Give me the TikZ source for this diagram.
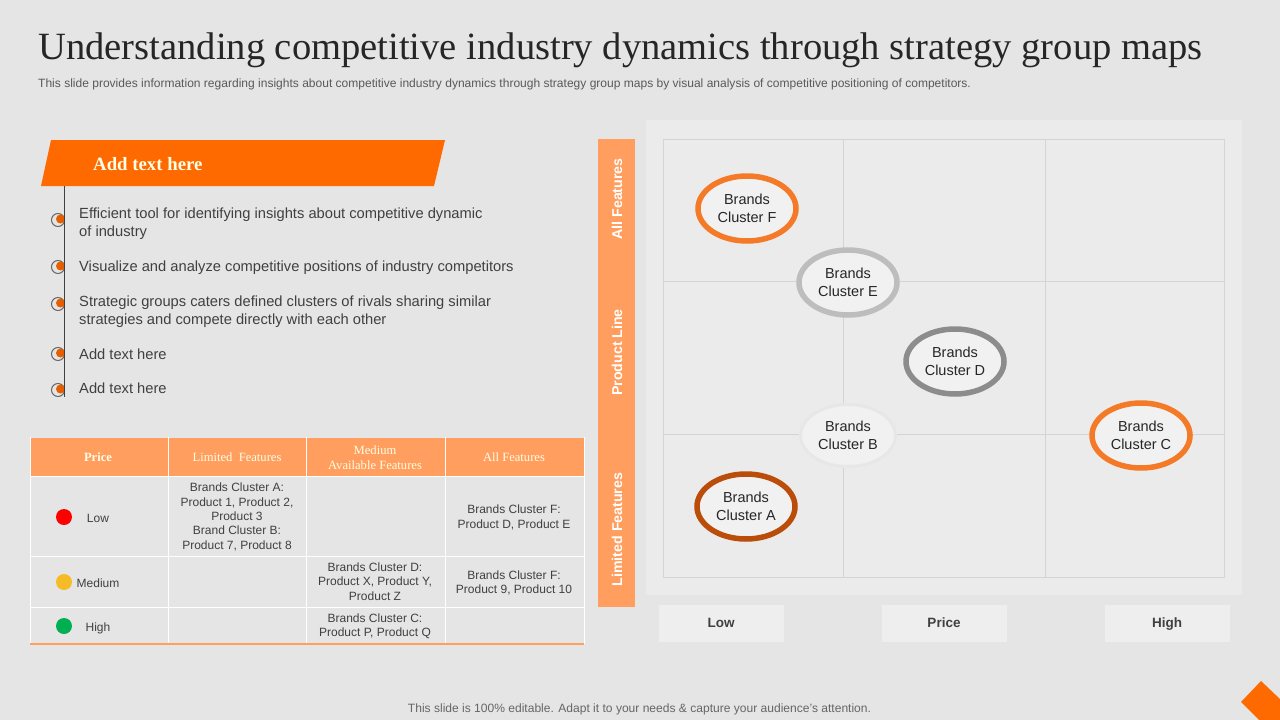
\documentclass[tikz,border=0pt]{standalone}
\usepackage{fontspec}
\setmainfont{Liberation Sans}
\newfontfamily\serifface{Liberation Serif}
\usetikzlibrary{positioning,shapes.geometric}
\definecolor{slidebg}{HTML}{E5E5E5}
\definecolor{panelbg}{HTML}{EBEBEB}
\definecolor{axisbg}{HTML}{EEEEEE}
\definecolor{clusterbg}{HTML}{F1F1F1}
\definecolor{gridline}{HTML}{D4D4D4}
\definecolor{headorange}{HTML}{FF6A00}
\definecolor{softorange}{HTML}{FF9E5E}
\definecolor{ringorange}{HTML}{F47A28}
\definecolor{ringdark}{HTML}{BB4D0A}
\definecolor{ringlight}{HTML}{BDBDBD}
\definecolor{ringgrey}{HTML}{8C8C8C}
\definecolor{ringpale}{HTML}{E7E7E7}
\definecolor{bodytext}{HTML}{404040}
\definecolor{lowred}{HTML}{FF0000}
\definecolor{midyellow}{HTML}{F6BB26}
\definecolor{highgreen}{HTML}{00AF50}
\tikzset{
	bullettext/.style={anchor=west,inner sep=0pt,align=left,text=bodytext,font=\fontsize{14.7}{18}\selectfont},
	cellhead/.style={text=white!90!yellow,align=center,font=\serifface\fontsize{12.6}{15.5}\selectfont},
	celltext/.style={text=bodytext,align=center,font=\fontsize{12}{14.3}\selectfont},
	cluster/.style={ellipse,draw=#1,line width=5.5pt,fill=clusterbg,minimum width=98pt,minimum height=65pt,inner sep=0pt,align=center,text=black!85,font=\fontsize{14.5}{18}\selectfont},
	sidelabel/.style={rotate=90,text=white,font=\bfseries\fontsize{14.2}{15}\selectfont},
	axisbox/.style={fill=axisbg,minimum width=125pt,minimum height=37pt,inner sep=0pt,text height=10pt,text depth=3pt,text=bodytext,font=\bfseries\fontsize{13.5}{15}\selectfont},
	dot/.style={circle,fill=#1,minimum size=16pt,inner sep=0pt},
	tick/.style={circle,fill=headorange!90!black,minimum size=9pt,inner sep=0pt},
	ring/.style={circle,draw=bodytext!80,line width=1pt,minimum size=13pt,inner sep=0pt},
	tableline/.style={white,line width=1pt}
}
\begin{document}
\begin{tikzpicture}[x=1pt,y=-1pt]
	\useasboundingbox (0,0) rectangle (1280,720);
	\fill[slidebg] (0,0) rectangle (1280,720);
	% title
	\node[anchor=west,inner sep=0pt,text=black!85,font=\serifface\fontsize{38.57}{44}\selectfont] (title) at (38,50) {Understanding competitive industry dynamics through strategy group maps};
	\node[anchor=west,inner sep=0pt,text=black!65,font=\fontsize{12.03}{14}\selectfont] (subtitle) at (38,84) {This slide provides information regarding insights about competitive industry dynamics through strategy group maps by visual analysis of competitive positioning of competitors.};
	% left list
	\fill[headorange] (51,140)--(445,140)--(434,186)--(41,186)--cycle;
	\node[anchor=west,inner sep=0pt,text=white!90!yellow,font=\serifface\bfseries\fontsize{18.8}{22}\selectfont] (addhead) at (93,164) {Add text here};
	\coordinate (spinetop) at (64.5,186);
	\coordinate (spineend) at (64.5,397);
	\foreach \name/\yy in {a/219,b/266,c/303,d/353,e/389}{
		\node[ring] (ring\name) at (58,\yy+1) {};
		\node[tick] (tick\name) at (60.5,\yy) {};
	}
	\draw[bodytext,line width=1.1pt] (spinetop)--(spineend);
	\node[bullettext] (texta) at (79,224) {Efficient tool for identifying insights about competitive dynamic\\of industry};
	\node[bullettext] (textb) at (79,268) {Visualize and analyze competitive positions of industry competitors};
	\node[bullettext] (textc) at (79,312) {Strategic groups caters defined clusters of rivals sharing similar\\strategies and compete directly with each other};
	\node[bullettext] (textd) at (79,354) {Add text here};
	\node[bullettext] (texte) at (79,388) {Add text here};
	% table
	\fill[softorange] (30,438) rectangle (584,476);
	\foreach \xx in {168,306.5,445}{
		\draw[tableline] (\xx,437)--(\xx,644);
	}
	\foreach \yy in {476,556.5,607.5}{
		\draw[tableline] (30,\yy)--(584,\yy);
	}
	\draw[tableline] (30,437)--(30,644);
	\draw[tableline] (584,437)--(584,644);
	\draw[softorange,line width=2pt] (30,644)--(584,644);
	\node[cellhead,font=\serifface\bfseries\fontsize{12.6}{15.5}\selectfont] (hprice) at (98,457.5) {Price};
	\node[cellhead] (hlimited) at (237,457.5) {Limited\ \ Features};
	\node[cellhead] (hmedium) at (375,457.5) {Medium\\Available Features};
	\node[cellhead] (hall) at (514,457.5) {All Features};
	\node[dot=lowred] (dotlow) at (64,517) {};
	\node[dot=midyellow] (dotmedium) at (64,582) {};
	\node[dot=highgreen] (dothigh) at (64,626) {};
	\node[celltext] (low) at (98,518) {Low};
	\node[celltext] (medium) at (98,583) {Medium};
	\node[celltext] (high) at (98,628) {High};
	\node[celltext] (cella) at (237,517) {Brands Cluster A:\\Product 1, Product 2,\\Product 3\\Brand Cluster B:\\Product 7, Product 8};
	\node[celltext] (cellf) at (514,517.5) {Brands Cluster F:\\Product D, Product E};
	\node[celltext] (celld) at (375,581.5) {Brands Cluster D:\\Product X, Product Y,\\Product Z};
	\node[celltext] (cellg) at (514,583) {Brands Cluster F:\\Product 9, Product 10};
	\node[celltext] (cellc) at (375,626) {Brands Cluster C:\\Product P, Product Q};
	% map
	\fill[softorange] (598,139) rectangle (635,607);
	\node[sidelabel] (allf) at (617,199) {All Features};
	\node[sidelabel] (prod) at (617,352.5) {Product Line};
	\node[sidelabel] (limf) at (617,529.5) {Limited Features};
	\fill[panelbg] (646,120) rectangle (1242,595);
	\draw[gridline] (663.5,139) rectangle (1224.5,577);
	\draw[gridline] (843,139)--(843,577);
	\draw[gridline] (1045,139)--(1045,577);
	\draw[gridline] (663.5,281)--(1224.5,281);
	\draw[gridline] (663.5,434)--(1224.5,434);
	\node[cluster=ringorange] (clusterf) at (747,208.5) {Brands\\Cluster F};
	\node[cluster=ringlight] (clustere) at (848,282.5) {Brands\\Cluster E};
	\node[cluster=ringgrey] (clusterd) at (955,361.5) {Brands\\Cluster D};
	\node[cluster=ringpale,line width=3pt,minimum width=95pt,minimum height=62pt] (clusterb) at (848,435.5) {Brands\\Cluster B};
	\node[cluster=ringorange] (clusterc) at (1141,435.5) {Brands\\Cluster C};
	\node[cluster=ringdark] (clustera) at (746,506.5) {Brands\\Cluster A};
	\node[axisbox] (axlow) at (721,623.5) {Low};
	\node[axisbox] (axprice) at (944,623.5) {Price};
	\node[axisbox] (axhigh) at (1167,623.5) {High};
	% footer
	\node[text=black!60,font=\fontsize{12.05}{14}\selectfont] (footer) at (639.5,709.5) {This slide is 100\% editable. Adapt it to your needs \& capture your audience’s attention.};
	\fill[headorange] (1241,702)--(1261,681)--(1280,699)--(1280,720)--(1259,720)--cycle;
\end{tikzpicture}
\end{document}
